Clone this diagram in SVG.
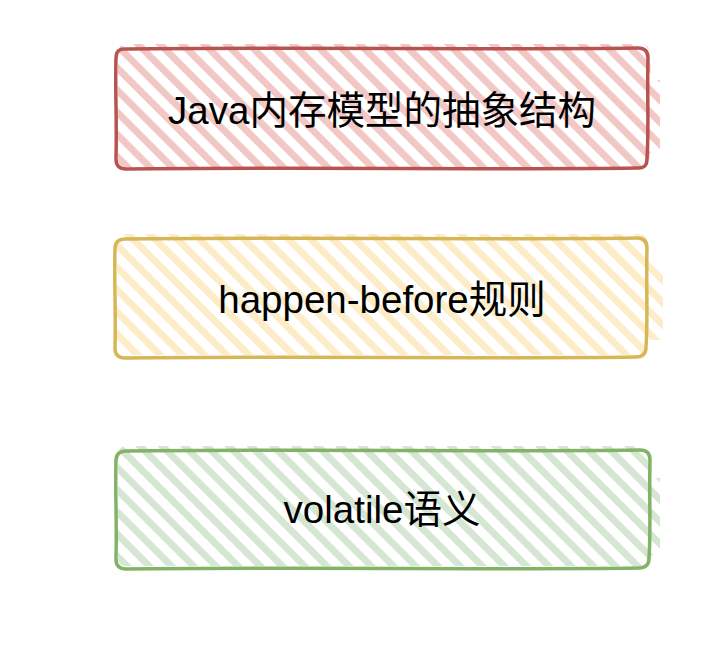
<svg xmlns="http://www.w3.org/2000/svg" width="720" height="645" viewBox="0 0 720 645">
<style>
.border{fill:none;stroke-width:3.5;stroke-linejoin:round;stroke-linecap:round}
.lbl{font-family:"Liberation Sans","Noto Sans CJK SC",sans-serif;font-size:38.5px;fill:#000000;text-anchor:middle}
</style>
<defs>
<pattern id="hatch-red" patternUnits="userSpaceOnUse" width="15.7" height="20" patternTransform="rotate(-45)"><rect x="0" y="0" width="7" height="20" fill="#f2c8c6"/></pattern>
<pattern id="hatch-yellow" patternUnits="userSpaceOnUse" width="15.7" height="20" patternTransform="rotate(-45)"><rect x="0" y="0" width="7" height="20" fill="#fcecc8"/></pattern>
<pattern id="hatch-green" patternUnits="userSpaceOnUse" width="15.7" height="20" patternTransform="rotate(-45)"><rect x="0" y="0" width="7" height="20" fill="#d5e6d3"/></pattern>
</defs>
<rect width="720" height="645" fill="#ffffff"/>
<g id="node-jmm">
<path d="M126,44 H640 Q650,44 650,54 L651,80 L660,80 L660,153 L650,153 L649,159 Q648,167 638,167 H126 Q118,167 118,158 V54 Q118,44 126,44 Z" fill="url(#hatch-red)"/>
<path class="border" stroke="#b85450" d="M126,49 C300,47 500,50 638,48 Q648,48 648,58 C647,90 649,130 647,159 Q647,169 637,168 C500,170 300,167 126,169 Q116,169 116,159 C117,120 115,90 116,58 Q116,48 126,49 Z"/>
<text class="lbl" x="382" y="124">Java内存模型的抽象结构</text>
</g>
<g id="node-hb">
<path d="M125,234 H638 Q648,234 648,244 L649,263 L663,263 L663,340 L649,340 L648,347 Q647,355 637,355 H125 Q117,355 117,346 V244 Q117,234 125,234 Z" fill="url(#hatch-yellow)"/>
<path class="border" stroke="#d6b656" d="M125,239 C300,237 500,240 637,238 Q647,238 647,248 C646,280 648,320 646,347 Q646,357 636,357 C500,359 300,356 125,358 Q115,358 115,348 C116,310 114,280 115,249 Q115,239 125,239 Z"/>
<text class="lbl" x="382" y="313">happen-before规则</text>
</g>
<g id="node-volatile">
<path d="M126,446 H641 Q651,446 651,456 L652,478 L660,478 L660,555 L652,555 L651,558 Q650,566 640,566 H126 Q118,566 118,557 V456 Q118,446 126,446 Z" fill="url(#hatch-green)"/>
<path class="border" stroke="#82b366" d="M126,451 C300,449 500,452 640,450 Q650,450 650,460 C649,490 651,530 649,558 Q649,568 639,568 C500,570 300,567 126,569 Q116,569 116,559 C117,520 115,490 116,461 Q116,451 126,451 Z"/>
<text class="lbl" x="382" y="523">volatile语义</text>
</g>
<g id="connectors"/>
</svg>
